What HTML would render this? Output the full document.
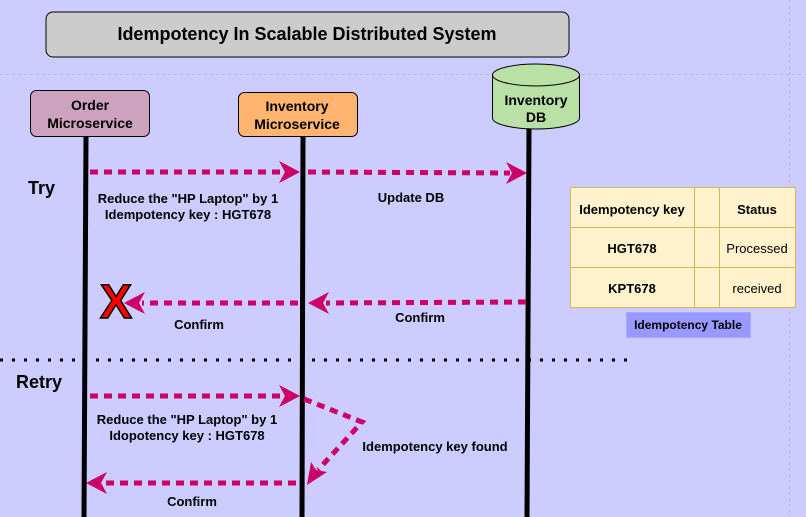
<!DOCTYPE html>
<html><head><meta charset="utf-8"><style>
html,body{margin:0;padding:0;background:#ccccff;}
svg{display:block;font-family:"Liberation Sans",Arial,sans-serif;}
</style></head><body>
<svg width="806" height="517" viewBox="0 0 806 517" xmlns="http://www.w3.org/2000/svg">
<rect width="806" height="517" fill="#ccccff"/>
<line x1="0" y1="74.5" x2="806" y2="74.5" stroke="#b8b8cc" stroke-dasharray="3,3"/>
<line x1="789.5" y1="0" x2="789.5" y2="517" stroke="#b8b8cc" stroke-dasharray="3,3"/>
<rect x="46" y="12" width="523" height="45" rx="7" fill="#cccccc" stroke="#000" stroke-width="1"/>
<text x="307" y="40" font-size="18" font-weight="bold" text-anchor="middle">Idempotency In Scalable Distributed System</text>

<rect x="30.5" y="90.5" width="119" height="46" rx="6" fill="#cda2be" stroke="#000"/>
<text x="90" y="110" font-size="14" font-weight="bold" text-anchor="middle">Order</text>
<text x="90" y="128" font-size="14" font-weight="bold" text-anchor="middle">Microservice</text>
<rect x="238.5" y="92.5" width="119" height="44" rx="6" fill="#ffb570" stroke="#000"/>
<text x="297" y="111" font-size="14" font-weight="bold" text-anchor="middle">Inventory</text>
<text x="297" y="129" font-size="14" font-weight="bold" text-anchor="middle">Microservice</text>
<path d="M492.5,75 L492.5,118 A43.5,11 0 0 0 579.5,118 L579.5,75 A43.5,11 0 0 0 492.5,75 A43.5,11 0 0 0 579.5,75" fill="#b9e0a5" stroke="#000"/>
<text x="536" y="105" font-size="14" font-weight="bold" text-anchor="middle">Inventory</text>
<text x="536" y="122" font-size="14" font-weight="bold" text-anchor="middle">DB</text>

<g stroke="#000" stroke-width="5">
<line x1="86" y1="136" x2="84" y2="517"/>
<line x1="303" y1="136" x2="302" y2="517"/>
<line x1="529" y1="129" x2="527" y2="517"/>
</g>

<g stroke="#cc0066" stroke-width="5" stroke-dasharray="8,6" fill="none">
<line x1="90" y1="172" x2="282" y2="172"/>
<line x1="308" y1="172" x2="510" y2="173"/>
<line x1="526" y1="302" x2="326" y2="303"/>
<line x1="298" y1="303" x2="142" y2="303"/>
<line x1="90" y1="396" x2="282" y2="396"/>
<polyline points="304,399 362,422 318,470"/>
<line x1="296" y1="483" x2="104" y2="483"/>
</g>
<g fill="#cc0066">
<path d="M300,172 L279,161 L285,172 L279,183 Z"/>
<path d="M527,173 L506,162 L512,173 L506,184 Z"/>
<path d="M308,303 L329,292 L323,303 L329,314 Z"/>
<path d="M124,303 L145,292 L139,303 L145,314 Z"/>
<path d="M300,396 L279,385 L285,396 L279,407 Z"/>
<path d="M307,485 L311,462 L316,470 L327,472 Z"/>
<path d="M86,483 L107,472 L101,483 L107,494 Z"/>
</g>
<text x="116" y="318" font-size="48" font-weight="bold" fill="#ff0000" stroke="#000" stroke-width="1.5" text-anchor="middle" transform="translate(116 0) scale(1 1) translate(-116 0)">X</text>

<g font-size="13" font-weight="bold" text-anchor="middle">
<text x="188" y="203">Reduce the "HP Laptop" by 1</text>
<text x="188" y="219">Idempotency key : HGT678</text>
<text x="411" y="202">Update DB</text>
<text x="199" y="329">Confirm</text>
<text x="420" y="322">Confirm</text>
<text x="187" y="424">Reduce the "HP Laptop" by 1</text>
<text x="187" y="440">Idopotency key : HGT678</text>
<text x="435" y="451">Idempotency key found</text>
<text x="192" y="506">Confirm</text>
</g>
<text x="28" y="194" font-size="18" font-weight="bold">Try</text>
<text x="16" y="388" font-size="18" font-weight="bold">Retry</text>
<line x1="0" y1="360" x2="627" y2="360" stroke="#000" stroke-width="3" stroke-dasharray="3,9"/>

<g fill="#fff2cc" stroke="#d6b656">
<rect x="570.5" y="187.5" width="225" height="40"/>
<rect x="570.5" y="227.5" width="225" height="40"/>
<rect x="570.5" y="267.5" width="225" height="40"/>
<line x1="694.5" y1="187" x2="694.5" y2="307"/>
<line x1="719.5" y1="187" x2="719.5" y2="307"/>
</g>
<g font-size="13" text-anchor="middle">
<text x="632" y="214" font-weight="bold">Idempotency key</text>
<text x="757" y="214" font-weight="bold">Status</text>
<text x="632" y="253" font-weight="bold">HGT678</text>
<text x="757" y="253">Processed</text>
<text x="632" y="293" font-weight="bold">KPT678</text>
<text x="757" y="293">received</text>
</g>
<rect x="626.5" y="312.5" width="124" height="25" fill="#9999ff" stroke="#aaaaff"/>
<text x="688" y="329" font-size="12" font-weight="bold" text-anchor="middle">Idempotency Table</text>
</svg>
</body></html>
